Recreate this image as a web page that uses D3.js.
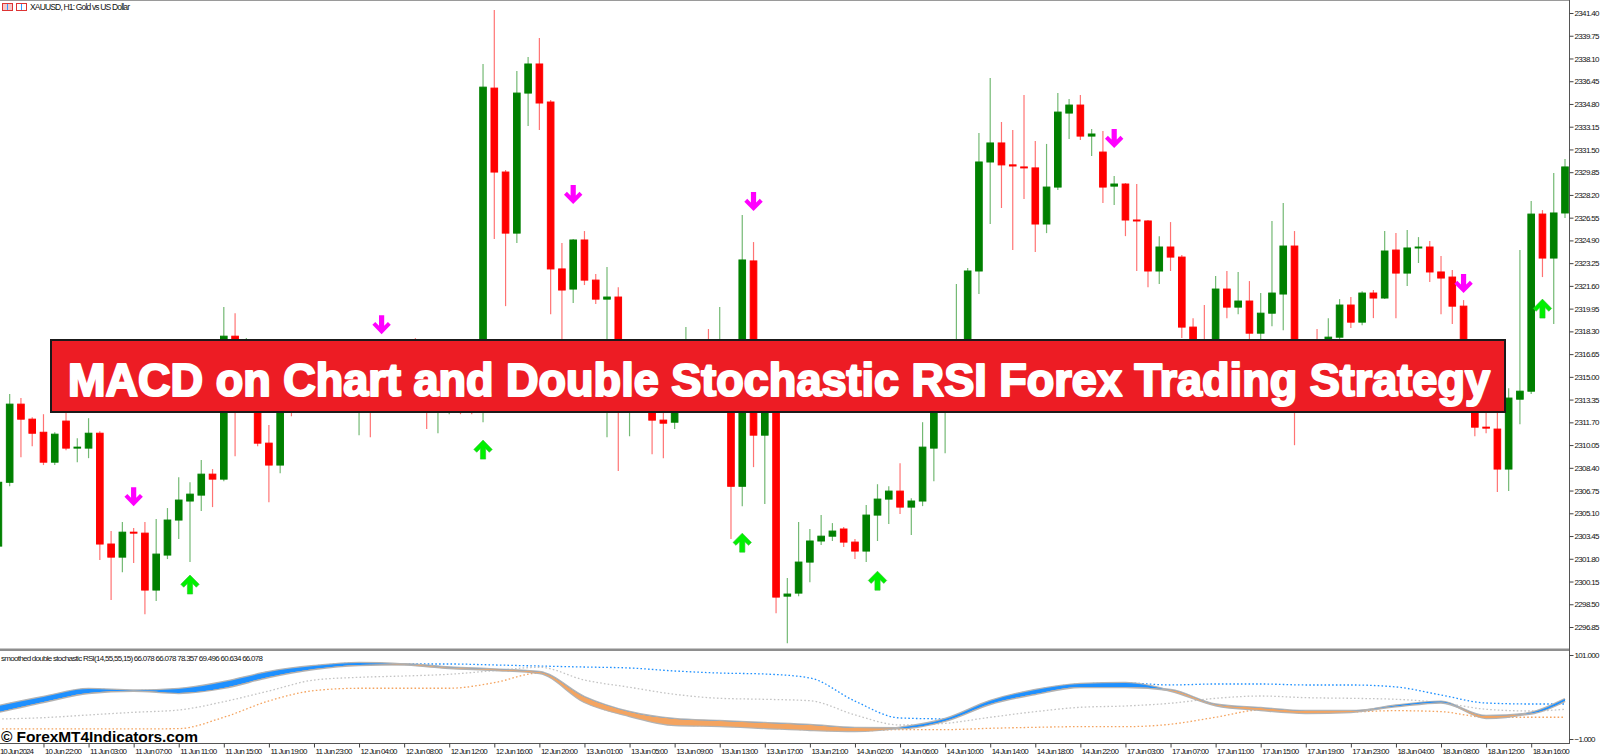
<!DOCTYPE html>
<html>
<head>
<meta charset="utf-8">
<script src="https://cdn.jsdelivr.net/npm/d3@7"></script>
<style>
    body { margin: 0; background: #fff; overflow: hidden; }
    svg { display: block; }
    text { font-family: "Liberation Sans", Arial, sans-serif; }
</style>
</head>
<body>
<div id="chart"></div>
<script>
// XAUUSD H1 candles (one entry per bar, left to right)
const opens = [2302.72,2307.35,2313.02,2311.93,2310.98,2308.81,2311.79,2309.83,2309.83,2310.91,
    2302.87,2301.92,2303.73,2303.66,2299.53,2302.07,2304.61,2305.99,2306.42,2307.94,
    2307.58,2317.95,2313.68,2314.91,2310.19,2308.60,2313.68,2313.31,2314.40,2313.89,
    2314.91,2315.49,2313.31,2314.18,2313.16,2316.22,2315.34,2314.91,2313.89,2313.16,
    2313.46,2313.89,2313.46,2313.02,2335.95,2329.86,2325.43,2335.59,2337.70,2334.94,
    2322.83,2321.37,2324.93,2322.02,2320.64,2320.79,2313.68,2315.49,2314.40,2311.86,
    2311.71,2313.31,2314.76,2313.89,2313.46,2315.13,2307.06,2323.41,2310.77,2313.68,
    2299.09,2299.31,2301.56,2303.09,2303.44,2303.96,2303.01,2302.36,2304.97,2306.13,
    2306.71,2305.55,2305.99,2309.83,2313.31,2315.49,2316.94,2322.68,2330.59,2331.97,
    2330.38,2330.23,2330.16,2326.09,2328.77,2334.14,2334.72,2332.47,2331.31,2328.84,
    2328.99,2326.38,2326.31,2322.68,2324.42,2323.69,2318.61,2316.94,2314.76,2321.37,
    2320.06,2320.50,2318.17,2319.62,2321.01,2324.49,2313.68,2314.40,2313.31,2317.88,
    2320.21,2318.97,2321.08,2320.72,2324.20,2322.53,2324.35,2324.42,2322.61,2322.24,
    2320.13,2314.04,2311.35,2311.21,2308.31,2313.38,2313.96,2326.81,2323.62,2326.89];
const highs = [2307.65,2313.75,2313.46,2312.07,2312.29,2310.98,2312.95,2310.55,2312.00,2311.06,
    2303.81,2304.46,2304.03,2304.46,2304.68,2305.48,2307.72,2307.35,2308.96,2308.31,
    2320.06,2319.62,2317.81,2315.86,2311.50,2314.40,2315.49,2315.34,2315.13,2315.86,
    2316.22,2316.07,2314.76,2314.91,2317.52,2316.94,2316.07,2317.81,2314.40,2314.40,
    2314.76,2314.40,2314.04,2337.70,2341.61,2330.01,2337.19,2338.20,2339.58,2335.09,
    2324.71,2325.00,2325.58,2322.46,2322.97,2321.51,2316.58,2316.94,2315.49,2313.68,
    2314.76,2318.61,2316.22,2318.47,2320.06,2316.22,2326.74,2324.78,2314.40,2314.04,
    2300.40,2304.46,2303.96,2304.97,2304.39,2304.10,2303.23,2305.70,2307.21,2307.06,
    2308.74,2306.20,2311.71,2313.89,2316.22,2321.73,2322.90,2332.69,2336.68,2333.49,
    2332.91,2335.45,2332.12,2331.90,2335.59,2335.16,2335.45,2332.99,2332.84,2329.57,
    2329.06,2328.99,2326.38,2325.21,2326.23,2323.84,2319.26,2320.21,2322.31,2322.68,
    2322.61,2321.95,2321.08,2326.31,2327.61,2325.58,2315.49,2318.47,2319.26,2320.64,
    2320.79,2321.22,2321.30,2325.58,2325.43,2325.65,2325.14,2324.86,2323.77,2322.75,
    2320.57,2314.76,2312.44,2312.44,2314.18,2324.20,2327.76,2327.10,2329.79,2330.81];
const lows = [2302.43,2307.06,2309.17,2309.97,2308.60,2308.60,2309.68,2308.81,2309.10,2301.71,
    2298.80,2300.83,2301.49,2297.78,2298.73,2301.78,2303.23,2301.56,2305.26,2305.55,
    2307.43,2309.24,2313.31,2309.97,2305.91,2308.01,2312.14,2312.73,2313.02,2313.46,
    2314.18,2313.60,2310.77,2310.62,2312.58,2314.76,2313.89,2313.31,2311.21,2310.91,
    2312.29,2312.29,2312.29,2311.71,2325.00,2320.13,2324.71,2333.20,2332.91,2319.55,
    2317.31,2320.35,2321.66,2320.28,2310.62,2308.16,2310.69,2313.31,2309.39,2309.10,
    2311.21,2312.95,2313.31,2312.95,2313.16,2303.23,2305.62,2308.45,2305.77,2297.85,
    2295.68,2299.09,2300.10,2302.80,2303.09,2302.65,2301.78,2301.56,2303.09,2304.32,
    2305.04,2303.52,2305.62,2307.43,2309.46,2313.68,2316.22,2321.01,2326.09,2327.25,
    2324.20,2327.90,2324.06,2325.43,2328.56,2332.26,2332.19,2331.02,2327.61,2327.47,
    2325.21,2322.68,2321.51,2321.73,2322.68,2317.81,2313.68,2314.04,2313.68,2319.26,
    2319.55,2317.74,2317.59,2318.68,2318.39,2310.04,2312.58,2312.73,2312.95,2317.74,
    2318.54,2318.75,2319.26,2320.64,2319.26,2321.59,2323.26,2321.88,2319.55,2318.83,
    2313.46,2310.69,2310.91,2306.64,2306.71,2311.57,2313.75,2322.24,2318.83,2326.52];
const closes = [2307.35,2313.02,2311.93,2310.91,2308.81,2310.84,2309.83,2309.90,2310.91,2302.87,
    2301.92,2303.73,2303.66,2299.53,2302.14,2304.61,2306.06,2306.49,2307.94,2307.58,
    2317.95,2313.68,2315.13,2310.19,2308.60,2313.68,2313.31,2314.40,2313.89,2314.91,
    2315.49,2314.40,2314.18,2313.16,2316.22,2315.34,2314.76,2313.89,2313.31,2313.68,
    2314.04,2313.46,2313.02,2336.02,2329.86,2325.43,2335.59,2337.70,2334.87,2322.83,
    2321.30,2324.93,2322.02,2320.64,2320.79,2313.68,2315.49,2314.40,2311.86,2311.64,
    2313.31,2314.76,2313.89,2313.46,2315.13,2307.06,2323.48,2310.77,2313.68,2299.02,
    2299.24,2301.56,2303.09,2303.44,2303.81,2303.01,2302.36,2304.97,2306.13,2306.71,
    2305.55,2305.99,2309.90,2313.31,2315.49,2316.94,2322.68,2330.59,2331.97,2330.38,
    2330.30,2330.16,2326.09,2328.77,2334.21,2334.72,2332.47,2332.62,2328.77,2328.99,
    2326.38,2326.31,2322.68,2324.42,2323.69,2318.61,2314.76,2315.13,2321.37,2320.06,
    2320.50,2318.17,2319.62,2321.08,2324.49,2313.68,2312.95,2313.31,2317.88,2320.21,
    2318.97,2321.08,2320.72,2324.13,2322.53,2324.35,2324.42,2322.61,2322.17,2320.13,
    2314.04,2311.35,2311.28,2308.31,2313.46,2313.96,2326.81,2323.62,2326.89,2330.23];

// signal arrows: bar index + price where the arrow tip sits
const sellBars = [12, 34, 51, 67, 99, 130];
const sellPrices = [2305.62, 2318.10, 2327.54, 2327.03, 2331.61, 2321.08];
const buyBars = [17, 43, 66, 78, 137];
const buyPrices = [2300.62, 2310.41, 2303.66, 2300.90, 2320.64];

// smoothed double stochastic RSI, sampled every 4 bars (+ last bar)
const indBars = [0,4,8,12,16,20,24,28,32,36,40,44,48,52,56,60,64,68,72,76,80,84,88,92,96,100,104,108,112,116,120,124,128,132,136,139];
const fastLine = [39.1,50.0,59.7,57.8,59.7,68.2,80.4,87.6,91.3,89.6,85.2,82.8,79.1,43.9,26.9,16.0,14.8,12.4,10.0,8.7,12.8,23.3,45.2,58.5,65.8,67.0,57.5,40.0,34.2,30.6,31.8,39.6,44.4,24.5,31.0,47.6];
const slowLine = [31.8,43.9,54.9,57.6,54.9,61.0,74.3,84.0,88.9,89.8,85.8,83.6,80.4,50.0,31.8,23.3,20.9,18.4,16.0,12.4,12.0,20.9,41.5,53.7,62.2,62.2,58.5,41.0,36.7,33.0,33.0,38.6,43.4,26.9,30.0,45.2];
const upperLevel = [39.1,50.0,59.7,57.8,59.7,68.2,80.4,87.6,91.3,90.1,90.1,88.9,87.6,86.4,85.2,81.6,79.1,77.9,73.1,45.0,24.5,23.5,45.2,58.5,65.8,67.0,64.6,65.8,65.8,64.6,64.6,62.2,52.4,42.7,41.5,41.5];
const midLevel = [23.3,24.9,28.2,31.4,34.2,44.3,57.3,70.6,73.9,75.5,77.6,82.0,86.1,70.6,61.8,53.3,48.4,47.2,45.5,28.2,16.0,18.0,25.4,32.2,37.5,39.1,42.4,48.4,51.2,49.2,48.4,47.2,43.1,35.1,33.0,35.1];
const lowerLevel = [11.2,11.2,11.2,11.2,11.6,25.4,45.2,57.7,60.6,60.6,60.6,67.4,79.1,43.9,26.9,16.0,14.8,12.4,10.0,8.7,10.4,10.4,12.0,13.2,14.0,14.0,16.9,25.4,34.2,30.6,31.8,33.4,32.2,25.4,25.4,25.4];

const timeLabels = ["10 Jun 2024","10 Jun 22:00","11 Jun 03:00","11 Jun 07:00","11 Jun 11:00","11 Jun 15:00",
    "11 Jun 19:00","11 Jun 23:00","12 Jun 04:00","12 Jun 08:00","12 Jun 12:00","12 Jun 16:00","12 Jun 20:00",
    "13 Jun 01:00","13 Jun 05:00","13 Jun 09:00","13 Jun 13:00","13 Jun 17:00","13 Jun 21:00","14 Jun 02:00",
    "14 Jun 06:00","14 Jun 10:00","14 Jun 14:00","14 Jun 18:00","14 Jun 22:00","17 Jun 03:00","17 Jun 07:00",
    "17 Jun 11:00","17 Jun 15:00","17 Jun 19:00","17 Jun 23:00","18 Jun 04:00","18 Jun 08:00","18 Jun 12:00","18 Jun 16:00"];
const priceTicks = [2341.40,2339.75,2338.10,2336.45,2334.80,2333.15,2331.50,2329.85,2328.20,2326.55,2324.90,2323.25,
    2321.60,2319.95,2318.30,2316.65,2315.00,2313.35,2311.70,2310.05,2308.40,2306.75,2305.10,2303.45,2301.80,2300.15,2298.50,2296.85];
const indTicks = [101, -1];

class CandleChart {
    constructor(parentElement) {
        this.parentElement = parentElement;
        this.initVis();
        this.updateVis();
    }

    initVis() {
        let vis = this;
        vis.width = 1600;
        vis.height = 756;
        vis.axisX = 1569;

        vis.svg = d3.select("#" + vis.parentElement)
            .append("svg")
            .attr("width", vis.width)
            .attr("height", vis.height);

        vis.x = d3.scaleLinear().domain([0, 139]).range([-1.6, 1565]);
        vis.y = d3.scaleLinear().domain([2296.85, 2341.40]).range([627, 13]);
        vis.yInd = d3.scaleLinear().domain([-1, 101]).range([739, 655]);

        let defs = vis.svg.append("defs");
        defs.append("clipPath").attr("id", "priceClip")
            .append("rect").attr("x", 0).attr("y", 1).attr("width", vis.axisX).attr("height", 647);
        defs.append("clipPath").attr("id", "indClip")
            .append("rect").attr("x", 0).attr("y", 651).attr("width", vis.axisX).attr("height", 92);

        // frame lines
        vis.svg.append("line").attr("x1", 0).attr("x2", vis.axisX).attr("y1", 0.5).attr("y2", 0.5)
            .attr("stroke", "#9a9a9a");
        vis.svg.append("rect").attr("x", 0).attr("y", 648.5).attr("width", vis.axisX).attr("height", 2.5)
            .attr("fill", "#8e8e8e");
        vis.svg.append("line").attr("x1", 0).attr("x2", vis.axisX).attr("y1", 743.5).attr("y2", 743.5)
            .attr("stroke", "#555");
        vis.svg.append("line").attr("x1", vis.axisX + 0.5).attr("x2", vis.axisX + 0.5).attr("y1", 0).attr("y2", 744)
            .attr("stroke", "#555");

        vis.pricePane = vis.svg.append("g").attr("clip-path", "url(#priceClip)");
        vis.indPane = vis.svg.append("g").attr("clip-path", "url(#indClip)");
    }

    updateVis() {
        let vis = this;
        vis.drawHeader();
        vis.drawCandles();
        vis.drawArrows();
        vis.drawIndicator();
        vis.drawAxes();
        vis.drawOverlay();
    }

    drawHeader() {
        let vis = this;
        // two tiny toolbar icons
        let icons = vis.svg.append("g");
        icons.append("rect").attr("x", 2.5).attr("y", 3.5).attr("width", 10).attr("height", 7)
            .attr("fill", "#f6c8c8").attr("stroke", "#d33");
        icons.append("line").attr("x1", 7.5).attr("x2", 7.5).attr("y1", 4).attr("y2", 10).attr("stroke", "#39f");
        icons.append("rect").attr("x", 16.5).attr("y", 3.5).attr("width", 10).attr("height", 7)
            .attr("fill", "#fff").attr("stroke", "#d33");
        icons.append("line").attr("x1", 21.5).attr("x2", 21.5).attr("y1", 4).attr("y2", 10).attr("stroke", "#39f");

        vis.svg.append("text")
            .attr("x", 30).attr("y", 10)
            .attr("font-size", 8.5)
            .attr("textLength", 100)
            .attr("fill", "#111")
            .text("XAUUSD, H1:  Gold vs US Dollar");
    }

    drawCandles() {
        let vis = this;
        let bars = opens.map((o, i) => ({ i: i, o: o, h: highs[i], l: lows[i], c: closes[i] }));
        let color = d => d.c >= d.o ? "#008000" : "#ff0000";

        let g = vis.pricePane.selectAll(".candle")
            .data(bars)
            .enter().append("g")
            .attr("class", "candle");

        g.append("line")
            .attr("x1", d => vis.x(d.i)).attr("x2", d => vis.x(d.i))
            .attr("y1", d => vis.y(d.h)).attr("y2", d => vis.y(d.l))
            .attr("stroke", color)
            .attr("stroke-opacity", 0.55)
            .attr("stroke-width", 1.2);

        g.append("rect")
            .attr("x", d => vis.x(d.i) - 3.3)
            .attr("width", 6.6)
            .attr("y", d => vis.y(Math.max(d.o, d.c)))
            .attr("height", d => Math.max(0.6, Math.abs(vis.y(d.o) - vis.y(d.c))))
            .attr("fill", color)
            .attr("stroke", color)
            .attr("stroke-width", 1);
    }

    drawArrows() {
        let vis = this;
        // thick wingdings-like arrows
        let downPath = "M-2.6,-19 L2.6,-19 L2.6,-8.5 L6.3,-12.2 L9.2,-9.3 L0,0 L-9.2,-9.3 L-6.3,-12.2 L-2.6,-8.5 Z";
        let upPath = "M-2.6,19 L2.6,19 L2.6,8.5 L6.3,12.2 L9.2,9.3 L0,0 L-9.2,9.3 L-6.3,12.2 L-2.6,8.5 Z";

        vis.pricePane.selectAll(".sell")
            .data(sellBars)
            .enter().append("path")
            .attr("class", "sell")
            .attr("d", downPath)
            .attr("transform", (d, k) => "translate(" + vis.x(d) + "," + vis.y(sellPrices[k]) + ")")
            .attr("fill", "#ff00ff");

        vis.pricePane.selectAll(".buy")
            .data(buyBars)
            .enter().append("path")
            .attr("class", "buy")
            .attr("d", upPath)
            .attr("transform", (d, k) => "translate(" + vis.x(d) + "," + vis.y(buyPrices[k]) + ")")
            .attr("fill", "#00f000")
            .attr("stroke", "#2fbf2f")
            .attr("stroke-width", 0.6);
    }

    drawIndicator() {
        let vis = this;
        let line = arr => d3.line()
            .x((d, k) => vis.x(indBars[k]))
            .y(d => vis.yInd(d))
            .curve(d3.curveMonotoneX)(arr);

        // dotted levels
        [[upperLevel, "#1e90ff"], [midLevel, "#c4c4c4"], [lowerLevel, "#f4a460"]].forEach(p => {
            vis.indPane.append("path")
                .attr("d", line(p[0]))
                .attr("fill", "none")
                .attr("stroke", p[1])
                .attr("stroke-width", 1.3)
                .attr("stroke-dasharray", "1.6,2.2");
        });

        // gray outline of the ribbon
        [fastLine, slowLine].forEach(arr => {
            vis.indPane.append("path")
                .attr("d", line(arr))
                .attr("fill", "none")
                .attr("stroke", "#b3b3b3")
                .attr("stroke-width", 2.4);
        });

        let ribbon = d3.area()
            .x((d, k) => vis.x(indBars[k]))
            .y0((d, k) => vis.yInd(slowLine[k]))
            .y1(d => vis.yInd(d))
            .curve(d3.curveMonotoneX);

        let above = d3.area()
            .x((d, k) => vis.x(indBars[k]))
            .y0(651)
            .y1(d => vis.yInd(d))
            .curve(d3.curveMonotoneX);
        let below = d3.area()
            .x((d, k) => vis.x(indBars[k]))
            .y0(745)
            .y1(d => vis.yInd(d))
            .curve(d3.curveMonotoneX);

        let defs = vis.svg.select("defs");
        defs.append("clipPath").attr("id", "aboveSlow").append("path").attr("d", above(slowLine));
        defs.append("clipPath").attr("id", "belowSlow").append("path").attr("d", below(slowLine));

        vis.indPane.append("path")
            .attr("d", ribbon(fastLine))
            .attr("fill", "#1e90ff")
            .attr("clip-path", "url(#aboveSlow)");
        vis.indPane.append("path")
            .attr("d", ribbon(fastLine))
            .attr("fill", "#f4a460")
            .attr("clip-path", "url(#belowSlow)");

        vis.svg.append("text")
            .attr("x", 1).attr("y", 661)
            .attr("font-size", 8)
            .attr("textLength", 262)
            .attr("fill", "#111")
            .text("smoothed double stochastic RSI(14,55,55,15) 66.078 66.078 78.357 69.496 60.634 66.078");
    }

    drawAxes() {
        let vis = this;

        let yAxis = d3.axisRight(vis.y)
            .tickValues(priceTicks)
            .tickFormat(d3.format(".2f"))
            .tickSize(4)
            .tickPadding(1);
        let ga = vis.svg.append("g")
            .attr("transform", "translate(" + (vis.axisX + 0.5) + ",0)")
            .call(yAxis);

        let indAxis = d3.axisRight(vis.yInd)
            .tickValues(indTicks)
            .tickFormat(d3.format(".3f"))
            .tickSize(4)
            .tickPadding(1);
        let gi = vis.svg.append("g")
            .attr("transform", "translate(" + (vis.axisX + 0.5) + ",0)")
            .call(indAxis);

        let xAxis = d3.axisBottom(vis.x)
            .tickValues(timeLabels.map((t, k) => k * 4))
            .tickFormat(d => timeLabels[d / 4])
            .tickSize(4)
            .tickPadding(1);
        let gx = vis.svg.append("g")
            .attr("transform", "translate(0,743.5)")
            .call(xAxis);
        gx.selectAll("text")
            .attr("text-anchor", "start")
            .attr("dx", "1")
            .attr("y", 5)
            .attr("dy", "0.71em")
            .attr("textLength", d => d === 0 ? 34 : 37);

        [ga, gi, gx].forEach(g => {
            g.select(".domain").remove();
            g.selectAll("line").attr("stroke", "#444");
            g.selectAll("text")
                .attr("font-family", "'Liberation Sans', Arial, sans-serif")
                .attr("font-size", 8)
                .attr("fill", "#111");
        });
        ga.selectAll("text").attr("textLength", 25);
        gi.selectAll("text").attr("textLength", d => d < 0 ? 21 : 25);
    }

    drawOverlay() {
        let vis = this;
        // title banner over the chart
        vis.svg.append("rect")
            .attr("x", 51).attr("y", 340)
            .attr("width", 1454).attr("height", 72)
            .attr("fill", "#ed1c24")
            .attr("stroke", "#1a1a1a")
            .attr("stroke-width", 2);

        vis.svg.append("text")
            .attr("x", 68).attr("y", 396)
            .attr("font-family", "'DejaVu Sans', 'Liberation Sans', sans-serif")
            .attr("font-weight", "bold")
            .attr("font-size", 46)
            .attr("textLength", 1422)
            .attr("lengthAdjust", "spacingAndGlyphs")
            .attr("fill", "#fff")
            .attr("stroke", "#fff")
            .attr("stroke-width", 2.2)
            .attr("stroke-linejoin", "round")
            .text("MACD on Chart and Double Stochastic RSI Forex Trading Strategy");

        // site watermark
        vis.svg.append("text")
            .attr("x", 1).attr("y", 742)
            .attr("font-weight", "bold")
            .attr("font-size", 15.5)
            .attr("textLength", 197)
            .attr("fill", "#000")
            .text("\u00A9 ForexMT4Indicators.com");
    }
}

new CandleChart("chart");
</script>
</body>
</html>
